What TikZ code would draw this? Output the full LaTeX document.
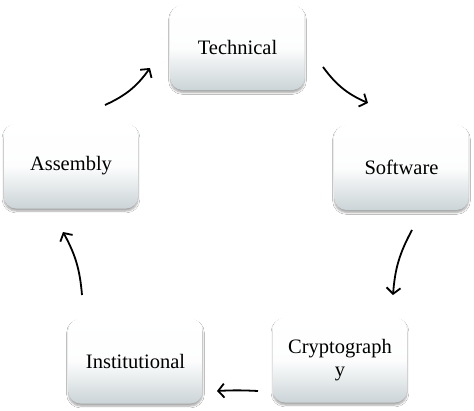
\documentclass[tikz,border=0pt]{standalone}
\usepackage{fontspec}
\setmainfont{Liberation Serif}
\usetikzlibrary{arrows.meta,shadows.blur}
\definecolor{boxbot}{RGB}{203,212,215}
\tikzset{
  stagebox/.style={rounded corners=12pt, minimum width=134pt, minimum height=85pt,
    top color=white, bottom color=boxbot, middle color=white!96!boxbot,
    blur shadow={shadow xshift=0pt, shadow yshift=-2.5pt, shadow blur steps=6, shadow opacity=35},
    font=\fontsize{20.5}{23}\selectfont, align=center, inner sep=2pt},
  cyc/.style={line width=1.8pt, -{Straight Barb[length=6pt,width=14pt,line width=1.8pt]}}
}
\begin{document}
\begin{tikzpicture}[x=1pt,y=-1pt]
\useasboundingbox[fill=white] (0,0) rectangle (474,410);
\node[stagebox] (tech) at (237.5,47.5) {Technical};
\node[stagebox] (soft) at (401.5,167.5) {Software};
\node[stagebox] (cryp) at (340,360) {Cryptograph\\y};
\node[stagebox] (inst) at (135.5,361) {Institutional};
\node[stagebox] (asm) at (71,166) {Assembly};
\coordinate (a1s) at (105,105); \coordinate (a1e) at (150,68);
\coordinate (a2s) at (323,67);  \coordinate (a2e) at (368,103);
\coordinate (a3s) at (412,230); \coordinate (a3e) at (393,295);
\coordinate (a4s) at (258,391); \coordinate (a4e) at (217,391);
\coordinate (a5s) at (82,295);  \coordinate (a5e) at (63,232);
\draw[cyc] (a1s) to[bend right=15] (a1e);
\draw[cyc] (a2s) to[bend right=15] (a2e);
\draw[cyc] (a3s) to[bend right=12] (a3e);
\draw[cyc] (a4s) to[bend right=3] (a4e);
\draw[cyc] (a5s) to[bend right=12] (a5e);
\end{tikzpicture}
\end{document}
